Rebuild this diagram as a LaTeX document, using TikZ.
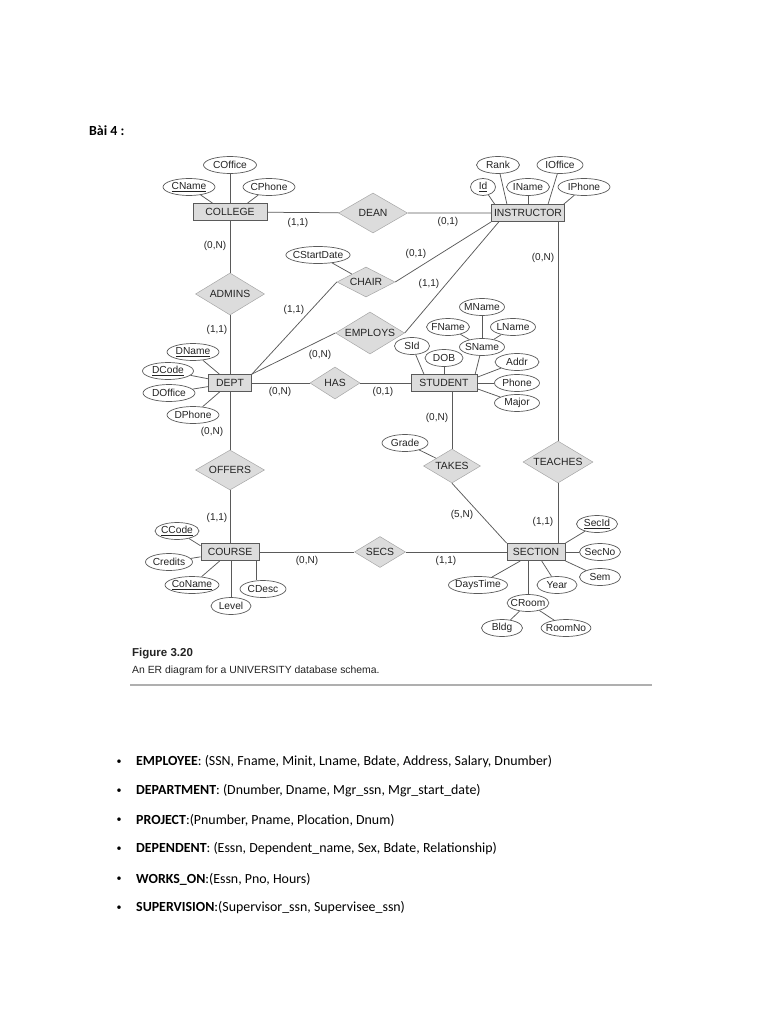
\documentclass[tikz,border=0pt]{standalone}
\usepackage{fontspec}
\setmainfont{Carlito}
\newfontfamily\figfont{Liberation Sans}
\usetikzlibrary{shapes.geometric,positioning}
\definecolor{linegray}{RGB}{90,90,90}
\definecolor{boxgray}{RGB}{220,220,220}
\definecolor{textgray}{RGB}{35,35,35}
\definecolor{rulegray}{RGB}{175,175,175}

\begin{document}
\begin{tikzpicture}[x=1pt, y=-1pt,
    entity/.style={rectangle, draw=linegray, fill=boxgray, line width=0.9pt,
                   minimum width=#1, minimum height=17pt, inner sep=1pt,
                   font=\figfont\fontsize{10.4}{12}\selectfont, text=textgray},
    rel/.style 2 args={diamond, aspect=1.65, draw=gray!70, fill=boxgray, line width=0.5pt,
                   minimum width=#1, minimum height=#2, inner sep=0pt,
                   font=\figfont\fontsize{10.4}{12}\selectfont, text=textgray},
    attr/.style={ellipse, draw=linegray, fill=white, line width=0.7pt,
                 minimum width=#1, minimum height=17pt, inner xsep=-2.5pt, inner ysep=0pt,
                 font=\figfont\fontsize{10.2}{12}\selectfont, text=textgray},
    card/.style={font=\figfont\fontsize{10}{12}\selectfont, text=textgray, inner sep=0pt},
    link/.style={draw=linegray, line width=0.75pt},
    listitem/.style={anchor=west, font=\fontsize{13.9}{16}\selectfont, inner sep=0pt},
    dot/.style={font=\fontsize{10}{12}\selectfont, inner sep=0pt}
]
\useasboundingbox (0,0) rectangle (768,1024);

\node[listitem] (title) at (89,131) {\textbf{Bài 4 :}};

% Entities
\node[entity=74pt] (college) at (230,212) {COLLEGE};
\node[entity=73pt] (instructor) at (528,213) {INSTRUCTOR};
\node[entity=43pt] (dept) at (230,383) {DEPT};
\node[entity=66pt] (student) at (444,383) {STUDENT};
\node[entity=58pt] (course) at (230,552) {COURSE};
\node[entity=58pt] (section) at (536,552) {SECTION};

% Relationships
\node[rel={69pt}{40pt}] (dean) at (373,213) {DEAN};
\node[rel={58pt}{30pt}] (chair) at (366,282) {CHAIR};
\node[rel={69pt}{42pt}] (admins) at (230,294) {ADMINS};
\node[rel={69pt}{42pt}] (employs) at (370,333) {EMPLOYS};
\node[rel={50pt}{32pt}] (has) at (335,383) {HAS};
\node[rel={69pt}{40pt}] (offers) at (230,470) {OFFERS};
\node[rel={57pt}{34pt}] (takes) at (452,466) {TAKES};
\node[rel={70pt}{42pt}] (teaches) at (558,462) {TEACHES};
\node[rel={51pt}{31pt}] (secs) at (380,552) {SECS};

% Attributes
\node[attr=53pt] (coffice) at (230,165) {COffice};
\node[attr=52pt] (cname) at (189,187) {\underline{CName}};
\node[attr=52pt] (cphone) at (269,187) {CPhone};
\node[attr=43pt] (rank) at (498,165) {Rank};
\node[attr=46pt] (ioffice) at (560,165) {IOffice};
\node[attr=25pt] (id) at (483,187) {\underline{Id}};
\node[attr=43pt] (iname) at (528,187) {IName};
\node[attr=52pt] (iphone) at (584,187) {IPhone};
\node[attr=63pt] (cstart) at (318,255) {CStartDate};
\node[attr=52pt] (dname) at (193,352) {\underline{DName}};
\node[attr=51pt] (dcode) at (168,371) {\underline{DCode}};
\node[attr=52pt] (doffice) at (169,393) {DOffice};
\node[attr=52pt] (dphone) at (193,415) {DPhone};
\node[attr=45pt] (mname) at (482,307) {MName};
\node[attr=43pt] (fname) at (448,327) {FName};
\node[attr=45pt] (lname) at (513,327) {LName};
\node[attr=45pt] (sname) at (482,347) {SName};
\node[attr=35pt] (sid) at (412,346) {SId};
\node[attr=38pt] (dob) at (444,358) {DOB};
\node[attr=44pt] (addr) at (517,362) {Addr};
\node[attr=45pt] (phone) at (517,383) {Phone};
\node[attr=45pt] (major) at (517,403) {Major};
\node[attr=46pt] (grade) at (405,443) {Grade};
\node[attr=44pt] (ccode) at (177,531) {\underline{CCode}};
\node[attr=47pt] (credits) at (169,562) {Credits};
\node[attr=54pt] (coname) at (192,585) {\underline{CoName}};
\node[attr=40pt] (level) at (231,606) {Level};
\node[attr=46pt] (cdesc) at (263,589) {CDesc};
\node[attr=41pt] (secid) at (597,524) {\underline{SecId}};
\node[attr=41pt] (secno) at (600,552) {SecNo};
\node[attr=41pt] (sem) at (600,577) {Sem};
\node[attr=59pt] (daystime) at (478,585) {DaysTime};
\node[attr=40pt] (year) at (557,585) {Year};
\node[attr=40pt] (croom) at (528,603) {CRoom};
\node[attr=41pt] (bldg) at (502,628) {Bldg};
\node[attr=49pt] (roomno) at (566,628) {RoomNo};

% Relationship links
\draw[link] (college) -- (dean) -- (instructor);
\draw[link] (college) -- (admins) -- (dept);
\draw[link] (dept) -- (offers) -- (course);
\draw[link] (dept) -- (has) -- (student);
\draw[link] (course) -- (secs) -- (section);
\draw[link] (dept.north east) -- (chair.west);
\draw[link] (chair.east) -- (instructor.south west);
\draw[link] (dept.north east) -- (employs.west);
\draw[link] (employs.east) -- (instructor.197);
\draw[link] (student.south -| takes.north) -- (takes.north);
\draw[link] (takes.south) -- (section.north west);
\draw[link] (instructor.south -| teaches.north) -- (teaches.north);
\draw[link] (teaches.south) -- (section.north -| teaches.south);

% Attribute links
\draw[link] (coffice) -- (college);
\draw[link] (cname) -- (college.153);
\draw[link] (cphone) -- (college.27);
\draw[link] (rank) -- (instructor.157);
\draw[link] (ioffice) -- (instructor.24);
\draw[link] (id) -- (instructor.165);
\draw[link] (iname) -- (instructor);
\draw[link] (iphone) -- (instructor.14);
\draw[link] (cstart) -- (chair);
\draw[link] (dname) -- (dept);
\draw[link] (dcode) -- (dept);
\draw[link] (doffice) -- (dept);
\draw[link] (dphone) -- (dept);
\draw[link] (mname) -- (sname);
\draw[link] (fname) -- (sname);
\draw[link] (lname) -- (sname);
\draw[link] (sname) -- (student.16);
\draw[link] (sid) -- (student.156);
\draw[link] (dob) -- (student.north -| dob.south);
\draw[link] (addr) -- (student.10);
\draw[link] (phone) -- (student);
\draw[link] (major) -- (student.-10);
\draw[link] (grade) -- (takes);
\draw[link] (ccode) -- (course.168);
\draw[link] (credits) -- (course);
\draw[link] (coname) -- (course);
\draw[link] (level) -- (course.south -| level.north);
\draw[link] (cdesc.north -| course.-19) -- (course.-19);
\draw[link] (secid) -- (section.north east);
\draw[link] (secno) -- (section);
\draw[link] (sem) -- (section.south east);
\draw[link] (daystime) -- (section);
\draw[link] (year) -- (section);
\draw[link] (croom) -- (section.south -| croom.north);
\draw[link] (bldg) -- (croom);
\draw[link] (roomno) -- (croom);

% Cardinalities
\node[card] (k1) at (298,223) {(1,1)};
\node[card] (k2) at (448,222) {(0,1)};
\node[card] (k3) at (215,246) {(0,N)};
\node[card] (k4) at (217,330) {(1,1)};
\node[card] (k5) at (416,254) {(0,1)};
\node[card] (k6) at (429,284) {(1,1)};
\node[card] (k7) at (294,310) {(1,1)};
\node[card] (k8) at (320,355) {(0,N)};
\node[card] (k9) at (280,392) {(0,N)};
\node[card] (k10) at (383,392) {(0,1)};
\node[card] (k11) at (543,258) {(0,N)};
\node[card] (k12) at (212,432) {(0,N)};
\node[card] (k13) at (437,418) {(0,N)};
\node[card] (k14) at (217,518) {(1,1)};
\node[card] (k15) at (462,515) {(5,N)};
\node[card] (k16) at (543,522) {(1,1)};
\node[card] (k17) at (307,561) {(0,N)};
\node[card] (k18) at (446,561) {(1,1)};

% Caption
\node[anchor=west, inner sep=0pt, font=\figfont\bfseries\fontsize{11.5}{13}\selectfont, text=textgray] (fig) at (132,654) {Figure 3.20};
\node[anchor=west, inner sep=0pt, font=\figfont\fontsize{10.4}{12}\selectfont, text=textgray] (figcap) at (132,671) {An ER diagram for a UNIVERSITY database schema.};
\coordinate (ruleL) at (130,685);
\coordinate (ruleR) at (652,685);
\draw[rulegray, line width=2.5pt] (ruleL) -- (ruleR);

% Relations list
\node[dot] (d1) at (119,762) {\textbullet};
\node[listitem] (l1) at (136,762) {\textbf{EMPLOYEE}: (SSN, Fname, Minit, Lname, Bdate, Address, Salary, Dnumber)};
\node[dot] (d2) at (119,791) {\textbullet};
\node[listitem] (l2) at (136,791) {\textbf{DEPARTMENT}: (Dnumber, Dname, Mgr\_ssn, Mgr\_start\_date)};
\node[dot] (d3) at (119,820) {\textbullet};
\node[listitem] (l3) at (136,820) {\textbf{PROJECT}:(Pnumber, Pname, Plocation, Dnum)};
\node[dot] (d4) at (119,849) {\textbullet};
\node[listitem] (l4) at (136,849) {\textbf{DEPENDENT}: (Essn, Dependent\_name, Sex, Bdate, Relationship)};
\node[dot] (d5) at (119,879) {\textbullet};
\node[listitem] (l5) at (136,879) {\textbf{WORKS\_ON}:(Essn, Pno, Hours)};
\node[dot] (d6) at (119,908) {\textbullet};
\node[listitem] (l6) at (136,908) {\textbf{SUPERVISION}:(Supervisor\_ssn, Supervisee\_ssn)};
\end{tikzpicture}
\end{document}
